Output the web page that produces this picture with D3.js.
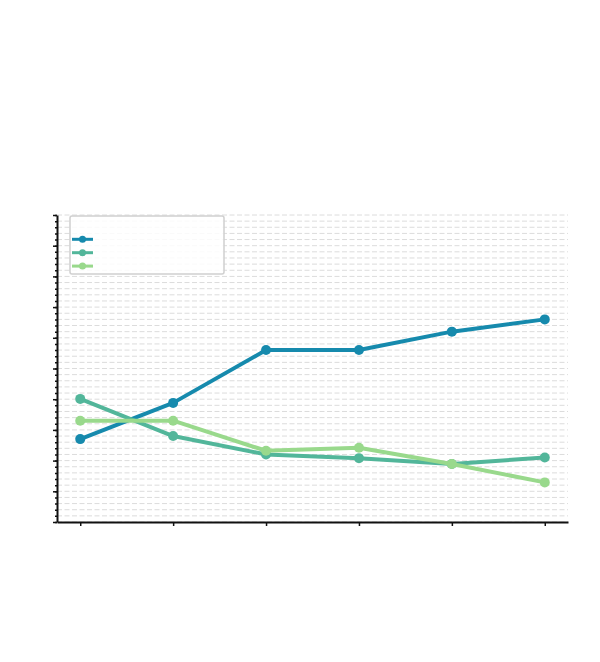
<!DOCTYPE html>
<html>
<head>
<meta charset="utf-8">
<script src="https://cdn.jsdelivr.net/npm/d3@7"></script>
<style>
  html, body { margin: 0; padding: 0; background: #fff; }
  svg { display: block; }
</style>
</head>
<body>
<svg id="chart" width="600" height="662"></svg>
<script>
// data (the reference shows no text, so labels are not drawn)
const categories = ['1', '2', '3', '4', '5', '6'];
const seriesNames = ['A', 'B', 'C'];
const seriesA = [27.0, 38.8, 56.0, 56.0, 62.0, 66.0];
const seriesB = [40.1, 28.0, 22.0, 20.8, 18.9, 21.0];
const seriesC = [33.0, 33.0, 23.2, 24.2, 18.9, 12.9];
const colors = ['#168aad', '#52b69a', '#99d98c'];

const yMax = 100;
const yMajorStep = 10;
const yMinorStep = 2;

const svg = d3.select('#chart');
const margin = { top: 215, right: 32, bottom: 140, left: 57 };
const width = 600 - margin.left - margin.right;
const height = 662 - margin.top - margin.bottom;

const g = svg.append('g').attr('transform', `translate(${margin.left},${margin.top})`);

const x = d3.scalePoint()
  .domain(categories)
  .range([0, width])
  .padding(0.25);

const y = d3.scaleLinear()
  .domain([0, yMax])
  .range([height, 0]);

const minorTicks = d3.range(0, yMax + 0.001, yMinorStep);
const majorTicks = d3.range(0, yMax + 0.001, yMajorStep);

// dashed grid at every minor step
g.append('g')
  .selectAll('line')
  .data(minorTicks)
  .enter()
  .append('line')
  .attr('x1', 0)
  .attr('x2', width)
  .attr('y1', d => y(d))
  .attr('y2', d => y(d))
  .attr('stroke', '#dcdcdc')
  .attr('stroke-width', 1)
  .attr('stroke-dasharray', '5,2.5');

// y axis: minor then major ticks
g.append('g')
  .call(d3.axisLeft(y).tickValues(minorTicks).tickSize(2).tickFormat(''))
  .call(a => a.select('.domain').remove())
  .selectAll('line').attr('stroke', '#111').attr('stroke-width', 1.5);

g.append('g')
  .call(d3.axisLeft(y).tickValues(majorTicks).tickSize(4).tickSizeOuter(0).tickFormat(''))
  .call(a => a.select('.domain').attr('stroke', '#111').attr('stroke-width', 2))
  .selectAll('.tick line').attr('stroke', '#111').attr('stroke-width', 1.5);

// x axis
g.append('g')
  .attr('transform', `translate(0,${height})`)
  .call(d3.axisBottom(x).tickSize(4).tickSizeOuter(0).tickFormat(''))
  .call(a => a.select('.domain').attr('stroke', '#111').attr('stroke-width', 2))
  .selectAll('.tick line').attr('stroke', '#111').attr('stroke-width', 1.5);

const allSeries = [seriesA, seriesB, seriesC];

const line = d3.line()
  .x((d, i) => x(categories[i]))
  .y(d => y(d));

allSeries.forEach((values, k) => {
  g.append('path')
    .datum(values)
    .attr('fill', 'none')
    .attr('stroke', colors[k])
    .attr('stroke-width', 4)
    .attr('stroke-linejoin', 'round')
    .attr('d', line);

  g.append('g')
    .selectAll('circle')
    .data(values)
    .enter()
    .append('circle')
    .attr('cx', (d, i) => x(categories[i]))
    .attr('cy', d => y(d))
    .attr('r', 5)
    .attr('fill', colors[k]);
});

// legend box (names are not shown in the reference)
const legend = svg.append('g').attr('transform', 'translate(70,216)');

legend.append('rect')
  .attr('width', 154)
  .attr('height', 58)
  .attr('rx', 2)
  .attr('fill', 'rgba(255,255,255,0.85)')
  .attr('stroke', '#d0d0d0')
  .attr('stroke-width', 1.5);

const items = legend.selectAll('.legend-item')
  .data(seriesNames)
  .enter()
  .append('g')
  .attr('class', 'legend-item')
  .attr('transform', (d, i) => `translate(2,${23.3 + i * 13.4})`);

items.append('line')
  .attr('x1', 0)
  .attr('x2', 21)
  .attr('stroke', (d, i) => colors[i])
  .attr('stroke-width', 3);

items.append('circle')
  .attr('cx', 10.5)
  .attr('r', 3.5)
  .attr('fill', (d, i) => colors[i]);
</script>
</body>
</html>
